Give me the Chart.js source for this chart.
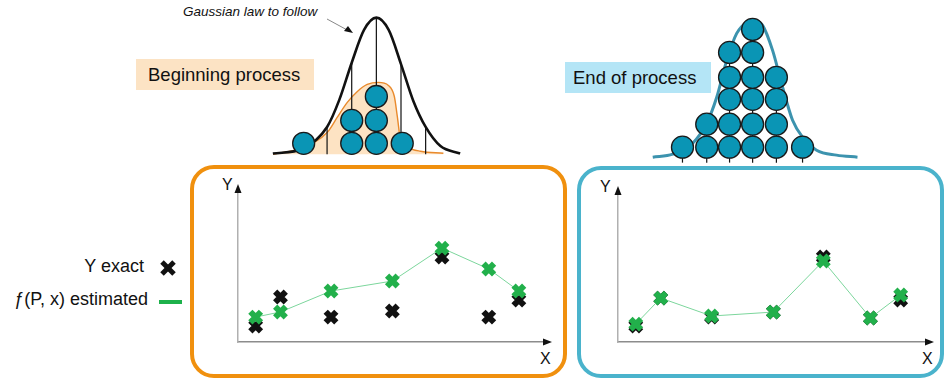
<!DOCTYPE html>
<html>
<head>
<meta charset="utf-8">
<script src="https://cdn.jsdelivr.net/npm/chart.js@4/dist/chart.umd.min.js"></script>
<style>
  body { margin: 0; width: 945px; height: 381px; background: #fff; position: relative; overflow: hidden;
         font-family: "Liberation Sans", Arial, sans-serif; color: #111; }
  .abs { position: absolute; }
  canvas.abs { display: block; }
  .frame { position: absolute; border-radius: 24px; box-sizing: border-box; border: 4px solid; }
  .tag { position: absolute; font-size: 18.5px; line-height: 31px; padding-left: 12px; box-sizing: border-box; }
  .axisLbl { position: absolute; font-size: 16px; }
  .leg { position: absolute; font-size: 18px; text-align: right; width: 150px; }
</style>
</head>
<body>

<div class="frame" style="left:190px; top:165px; width:377px; height:213px; border-color:#F0900E;"></div>
<div class="frame" style="left:577px; top:166px; width:367px; height:212px; border-color:#4AB3CC;"></div>

<div class="tag" style="left:136px; top:59px; width:178px; height:31px; background:#FCE3C4;">Beginning process</div>
<div class="tag" style="left:565px; top:62px; width:146px; height:31px; background:#B4E5F6; padding-left:8px;">End of process</div>

<div class="abs" style="left:183px; top:4px; font-size:13.5px; font-style:italic;">Gaussian law to follow</div>
<svg class="abs" style="left:0; top:0;" width="945" height="381">
  <line x1="327" y1="19" x2="349" y2="31" stroke="#888" stroke-width="1"/>
  <polygon points="353,33 344,31 348,26" fill="#111"/>
  <line x1="162" y1="262" x2="174" y2="274" stroke="#111" stroke-width="5"/>
  <line x1="174" y1="262" x2="162" y2="274" stroke="#111" stroke-width="5"/>
  <rect x="159" y="300" width="23" height="4" fill="#1DB14B"/>
</svg>
<div class="leg" style="left:-6px; top:256px;">Y exact</div>
<div class="leg" style="left:-2px; top:289px;">ƒ(P, x) estimated</div>

<div class="axisLbl" style="left:222px; top:176px;">Y</div>
<div class="axisLbl" style="left:540px; top:350px;">X</div>
<div class="axisLbl" style="left:600px; top:178px;">Y</div>
<div class="axisLbl" style="left:922px; top:350px;">X</div>

<canvas id="startBell" class="abs" style="left:263px; top:4px;" width="207" height="153"></canvas>
<canvas id="endBell" class="abs" style="left:648px; top:4px;" width="214" height="160"></canvas>
<canvas id="startPlot" class="abs" style="left:225px; top:175px;" width="335" height="175"></canvas>
<canvas id="endPlot" class="abs" style="left:605px; top:177px;" width="335" height="175"></canvas>

<script>
// measurement points (x shared by both plots)
const xPos           = [0.57, 1.37, 3.0, 4.98, 6.58, 8.09, 9.06];
const startExact     = [1.04, 2.92, 1.62, 2.01, 5.52, 1.62, 2.73];
const startEstimated = [1.62, 1.95, 3.31, 3.96, 6.10, 4.74, 3.31];
const endExact       = [1.05, 2.89, 1.64, 1.97, 5.59, 1.58, 2.76];
const endEstimated   = [1.18, 2.89, 1.71, 1.97, 5.33, 1.58, 3.09];

// target gaussian (top left)
const lawX = [-4.2, -3.0, -2.0, -1.5, -1.0, -0.5, 0, 0.5, 1.0, 1.5, 2.0, 2.6, 3.4];
const lawY = [0.05, 0.4, 2.0, 4.0, 6.7, 9.1, 10.0, 9.1, 6.6, 3.9, 2.0, 0.6, 0.05];
const lawBinX   = [-2, -1, 0, 1, 2];
const lawBinTop = [2.0, 6.7, 10.0, 6.6, 2.0];

// beginning distribution (orange hump)
const startCurveX = [-4.19, -2.97, -1.99, -1.59, -1.18, -0.77, -0.37, 0.08, 0.49, 0.73, 0.85, 0.98, 1.26, 1.79, 2.72];
const startCurveY = [0, 0.51, 1.61, 2.70, 3.80, 4.60, 5.11, 5.26, 5.04, 4.23, 2.77, 1.09, 0.51, 0.22, 0.07];
const startColX     = [-2.95, -1, 0, 1.05];
const startColCount = [1, 2, 3, 1];
const startRowY     = [0.80, 2.48, 4.23];

// end distribution
const endCurveX = [-4.2, -3.36, -2.52, -1.93, -1.51, -1.09, -0.67, -0.25, 0.08, 0.42, 0.84, 1.26, 1.68, 2.10, 2.69, 3.53, 4.41];
const endCurveY = [0, 0.22, 1.02, 2.48, 4.38, 7.08, 9.05, 9.85, 10.0, 9.64, 7.81, 5.11, 2.70, 1.46, 0.51, 0.15, 0];
const endColX     = [-2.95, -1.93, -0.97, 0, 1.0, 2.1];
const endColCount = [1, 2, 5, 6, 4, 1];
const endRowY     = [0.73, 2.41, 4.23, 5.84, 7.66, 9.34];

const BALL = '#0A95B5';
const zip = (xs, ys) => xs.map((x, i) => ({ x, y: ys[i] }));

function balls(colX, counts, rows) {
  const pts = [];
  colX.forEach((x, i) => { for (let k = 0; k < counts[i]; k++) pts.push({ x, y: rows[k] }); });
  return pts;
}

function baseOptions(xmin, xmax, ymin, ymax) {
  return {
    responsive: false,
    animation: false,
    events: [],
    layout: { padding: 0, autoPadding: false },
    plugins: { legend: { display: false }, tooltip: { enabled: false } },
    scales: {
      x: { type: 'linear', display: false, min: xmin, max: xmax },
      y: { type: 'linear', display: false, min: ymin, max: ymax }
    }
  };
}

function stick(x, y0, y1, width) {
  return { type: 'line', data: [{ x, y: y0 }, { x, y: y1 }], borderColor: '#111', borderWidth: width,
           pointRadius: 0, order: 2, clip: false };
}

// top left: beginning of process
new Chart(document.getElementById('startBell'), {
  type: 'line',
  data: {
    datasets: [
      { data: balls(startColX, startColCount, startRowY), showLine: false, pointRadius: 11,
        pointBackgroundColor: BALL, pointBorderColor: '#1a1a1a', pointBorderWidth: 1.3, order: 0, clip: false },
      { data: zip(lawX, lawY), borderColor: '#111', borderWidth: 2.6, pointRadius: 0,
        cubicInterpolationMode: 'monotone', order: 1, clip: false },
      ...lawBinX.map((x, i) => stick(x, 0, lawBinTop[i], 1.2)),
      { data: zip(startCurveX, startCurveY), borderColor: '#E98A2C', borderWidth: 1.4, pointRadius: 0,
        backgroundColor: '#FDE3C3', fill: 'origin', cubicInterpolationMode: 'monotone', order: 3, clip: false }
    ]
  },
  options: baseOptions(-4.6, 3.8, -0.2, 11)
});

// top right: end of process
new Chart(document.getElementById('endBell'), {
  type: 'line',
  data: {
    datasets: [
      { data: balls(endColX, endColCount, endRowY), showLine: false, pointRadius: 11,
        pointBackgroundColor: BALL, pointBorderColor: '#1a1a1a', pointBorderWidth: 1.3, order: 0, clip: false },
      { data: zip(endCurveX, endCurveY), borderColor: '#3C93AE', borderWidth: 3, pointRadius: 0,
        cubicInterpolationMode: 'monotone', order: 1, clip: false },
      ...endColX.map((x, i) => stick(x, -0.4, endRowY[endColCount[i] - 1], 1.2))
    ]
  },
  options: baseOptions(-4.4, 4.6, -0.5, 11.2)
});

const axisArrows = {
  id: 'axisArrows',
  afterDraw(chart) {
    const { ctx, chartArea: a } = chart;
    ctx.save();
    ctx.fillStyle = '#111';
    ctx.beginPath();
    ctx.moveTo(a.left, a.top - 4);
    ctx.lineTo(a.left - 3.5, a.top + 5);
    ctx.lineTo(a.left + 3.5, a.top + 5);
    ctx.closePath();
    ctx.fill();
    ctx.beginPath();
    ctx.moveTo(a.right + 4, a.bottom);
    ctx.lineTo(a.right - 5, a.bottom - 3.5);
    ctx.lineTo(a.right - 5, a.bottom + 3.5);
    ctx.closePath();
    ctx.fill();
    ctx.restore();
  }
};

function plot(id, exact, estimated, pad) {
  new Chart(document.getElementById(id), {
    type: 'scatter',
    data: {
      datasets: [
        { data: zip(xPos, estimated), showLine: true, borderColor: '#7CD69C', borderWidth: 1,
          pointStyle: 'crossRot', pointRadius: 7.5, pointBorderWidth: 6, pointBorderColor: '#22B04B', order: 0, clip: false },
        { data: zip(xPos, exact), showLine: false,
          pointStyle: 'crossRot', pointRadius: 7.5, pointBorderWidth: 6, pointBorderColor: '#111', order: 1, clip: false }
      ]
    },
    options: {
      responsive: false,
      animation: false,
      events: [],
      layout: { padding: pad, autoPadding: false },
      plugins: { legend: { display: false }, tooltip: { enabled: false } },
      scales: {
        x: { type: 'linear', min: 0, max: 10, ticks: { display: false },
             grid: { display: false, drawTicks: false, tickLength: 0 },
             border: { display: true, color: '#8C8C8C', width: 1.5 } },
        y: { type: 'linear', min: 0, max: 10, ticks: { display: false },
             grid: { display: false, drawTicks: false, tickLength: 0 },
             border: { display: true, color: '#B0B0B0', width: 1.5 } }
      }
    },
    plugins: [axisArrows]
  });
}

plot('startPlot', startExact, startEstimated, { left: 13, top: 13, right: 12, bottom: 8 });
plot('endPlot', endExact, endEstimated, { left: 13, top: 13, right: 10, bottom: 10 });
</script>
</body>
</html>
